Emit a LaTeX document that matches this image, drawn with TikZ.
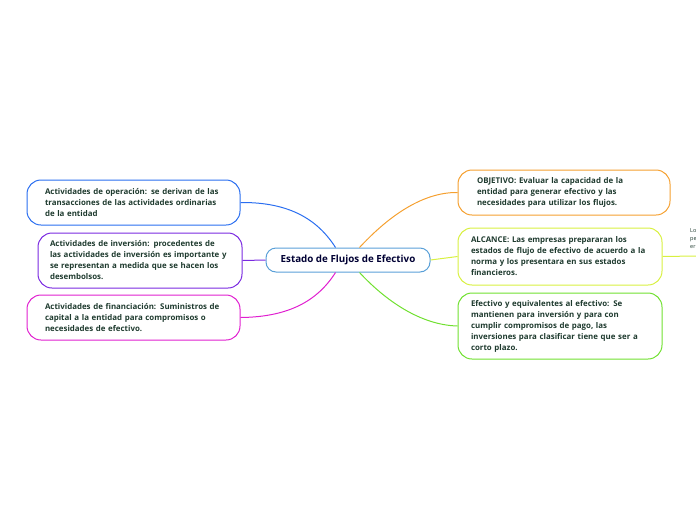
\documentclass[tikz,border=0pt]{standalone}
\usepackage{fontspec}
\setmainfont{Open Sans}
\begin{document}
\begin{tikzpicture}[x=1pt,y=-1pt,
  box/.style={draw,line width=1pt,rounded corners=14pt,align=left,font=\bfseries\fontsize{7.9}{11}\selectfont,text=txt,inner sep=0pt},
  link/.style={line width=1pt}]
\definecolor{txt}{HTML}{1E3A2E}
\definecolor{cblue}{HTML}{2A6EF0}
\definecolor{cpurp}{HTML}{7A2AE0}
\definecolor{cmag}{HTML}{E020D0}
\definecolor{corg}{HTML}{F5A030}
\definecolor{cyel}{HTML}{D8F040}
\definecolor{cgrn}{HTML}{70E030}
\definecolor{ccen}{HTML}{5AA0D8}
\useasboundingbox (0,0) rectangle (696,520);
\node[box,draw=ccen,minimum width=164pt,minimum height=24pt,rounded corners=10pt,font=\bfseries\fontsize{9.8}{11}\selectfont,text=black!80!blue,align=center] (c) at (348,260) {Estado de Flujos de Efectivo};
\node[box,draw=cblue,minimum width=213pt,minimum height=45pt,text width=177pt] (op) at (133.5,202.5) {Actividades de operación: se derivan de las\\transacciones de las actividades ordinarias\\de la entidad};
\node[box,draw=cpurp,minimum width=204pt,minimum height=55pt,text width=180pt] (inv) at (140,260.5) {Actividades de inversión: procedentes de\\las actividades de inversión es importante y\\se representan a medida que se hacen los\\desembolsos.};
\node[box,draw=cmag,minimum width=213pt,minimum height=45pt,text width=177pt] (fin) at (133.5,317.5) {Actividades de financiación: Suministros de\\capital a la entidad para compromisos o\\necesidades de efectivo.};
\node[box,draw=corg,minimum width=212pt,minimum height=45pt,text width=174pt] (obj) at (564,192.5) {OBJETIVO: Evaluar la capacidad de la\\entidad para generar efectivo y las\\necesidades para utilizar los flujos.};
\node[box,draw=cyel,minimum width=204pt,minimum height=57pt,text width=178pt] (alc) at (560,256.5) {ALCANCE: Las empresas prepararan los\\estados de flujo de efectivo de acuerdo a la\\norma y los presentara en sus estados\\financieros.};
\node[box,draw=cgrn,minimum width=204pt,minimum height=66pt,text width=178pt] (efe) at (560,326) {Efectivo y equivalentes al efectivo: Se\\mantienen para inversión y para con\\cumplir compromisos de pago, las\\inversiones para clasificar tiene que ser a\\corto plazo.};
\coordinate (far) at (696,256);
\node[anchor=north west,align=left,inner sep=0pt,font=\fontsize{5.5}{8}\selectfont,text=txt] (t) at (690,228) {Lo\\pe\\er};
\draw[link,cblue] (c.north west) ++(70,0) .. controls (318,220) and (290,202) .. (op.east);
\draw[link,cpurp] (c.west) -- (inv.east);
\draw[link,cmag] (c.south west) ++(70,0) .. controls (318,300) and (290,317) .. (fin.east);
\draw[link,corg] (c.north west) ++(94,0) .. controls (385,220) and (420,192) .. (obj.west);
\draw[link,cyel] (c.east) -- (alc.west);
\draw[link,cgrn] (c.south west) ++(94,0) .. controls (385,300) and (420,325) .. (efe.west);
\draw[link,cyel] (alc.east) -- (far);
\end{tikzpicture}
\end{document}
